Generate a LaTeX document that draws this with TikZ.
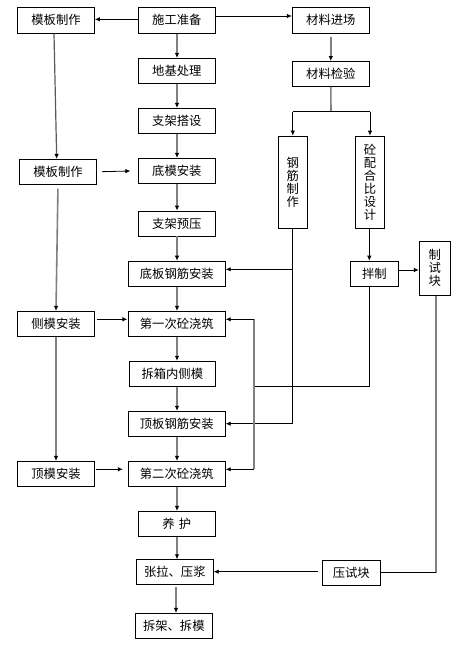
\documentclass[tikz,border=0pt]{standalone}
\usepackage{fontspec}
\setmainfont{Noto Sans CJK SC}
\usetikzlibrary{arrows.meta}

\begin{document}
\begin{tikzpicture}[x=1pt,y=-1pt,
    box/.style={draw,rectangle,line width=0.8pt,inner sep=0pt,align=center,
      minimum height=25pt,font=\fontsize{12.3}{13}\selectfont},
    vline/.style={draw=gray,line width=1.6pt,-{Latex[black,length=5pt,width=4.5pt]}},
    hline/.style={draw=black,line width=0.8pt,-{Latex[length=5pt,width=4.5pt]}},
    plain/.style={draw=black,line width=0.8pt}]

      \useasboundingbox (0,0) rectangle (466,648);

      \begin{scope}[every node/.style={box}]
        \node[minimum width=77pt,minimum height=26pt] (mbzz)  at (56,20.3)    {模板制作};
        \node[minimum width=77pt,minimum height=26pt] (sgzb)  at (176.8,20.3) {施工准备};
        \node[minimum width=77pt,minimum height=26pt] (cljc)  at (330.8,20.3) {材料进场};
        \node[minimum width=77pt] (djcl)  at (176.8,70.8)  {地基处理};
        \node[minimum width=77pt] (cljy)  at (330.8,74)    {材料检验};
        \node[minimum width=77pt] (zjds)  at (176.8,120.8) {支架搭设};
        \node[minimum width=29pt,minimum height=92pt] (gjzz) at (292.8,182) {钢\\筋\\制\\作};
        \node[minimum width=29pt,minimum height=92pt] (phb)  at (370,182)   {砼\\配\\合\\比\\设\\计};
        \node[minimum width=77pt] (mbzz2) at (58,171.8)    {模板制作};
        \node[minimum width=77pt] (dmaz)  at (176.8,170.8) {底模安装};
        \node[minimum width=77pt] (zjyy)  at (176.8,223.5) {支架预压};
        \node[minimum width=97pt] (dbgj)  at (176.8,273.6) {底板钢筋安装};
        \node[minimum width=48pt] (bz)    at (374.3,273.6) {拌制};
        \node[minimum width=31pt,minimum height=54pt] (zsk) at (434.7,268.3) {制\\试\\块};
        \node[minimum width=77pt] (cmaz)  at (56,323.8)    {侧模安装};
        \node[minimum width=97pt] (dyc)   at (176.8,323.8) {第一次砼浇筑};
        \node[minimum width=86pt] (cxm)   at (172.3,373.7) {拆箱内侧模};
        \node[minimum width=97pt] (dbgj2) at (176.8,423.7) {顶板钢筋安装};
        \node[minimum width=77pt] (dmaz2) at (56,473.8)    {顶模安装};
        \node[minimum width=97pt] (dec)   at (176.8,473.8) {第二次砼浇筑};
        \node[minimum width=77pt] (yh)    at (176.8,523.8) {养\,\,护};
        \node[minimum width=77pt] (zlyj)  at (174.8,572.2) {张拉、压浆};
        \node[minimum width=58pt] (ysk)   at (351.3,572.8) {压试块};
        \node[minimum width=77pt] (cjcm)  at (173.8,625.8) {拆架、拆模};
      \end{scope}

      \coordinate (fen) at (331,111.7);
      \coordinate (hui) at (254,386);

      % main column
      \draw[vline] (sgzb.south -| 177,0) -- (djcl.north -| 177,0);
      \draw[vline] (djcl.south -| 177,0) -- (zjds.north -| 177,0);
      \draw[vline] (zjds.south -| 177,0) -- (dmaz.north -| 177,0);
      \draw[vline] (dmaz.south -| 177,0) -- (zjyy.north -| 177,0);
      \draw[vline] (zjyy.south -| 177,0) -- (dbgj.north -| 177,0);
      \draw[vline] (dbgj.south -| 177,0) -- (dyc.north -| 177,0);
      \draw[vline] (dyc.south -| 177,0) -- (cxm.north -| 177,0);
      \draw[vline] (cxm.south -| 177,0) -- (dbgj2.north -| 177,0);
      \draw[vline] (dbgj2.south -| 177,0) -- (dec.north -| 177,0);
      \draw[vline] (dec.south -| 177,0) -- (yh.north -| 177,0);
      \draw[vline] (yh.south -| 177,0) -- (zlyj.north -| 177,0);
      \draw[vline,shorten <=2pt] (zlyj.south -| 176,0) -- (cjcm.north -| 176,0);

      % left column
      \draw[hline] (sgzb.west |- 0,19.3) -- (mbzz.east |- 0,19.3);
      \draw[vline,draw=gray!70!black,line width=1.2pt] (mbzz.south -| 54,0) -- (mbzz2.north -| 56.7,0);
      \draw[hline,shorten <=5pt,shorten >=7.5pt] (mbzz2.east) -- (dmaz.west);
      \draw[vline,shorten <=4pt] (mbzz2.south) -- (cmaz.north);
      \draw[hline,shorten <=2pt,shorten >=0.5pt] (cmaz.east |- 0,319.3) -- (dyc.west |- 0,319.3);
      \draw[vline] (cmaz.south) -- (dmaz2.north);
      \draw[hline,shorten <=1pt,shorten >=5pt] (dmaz2.east |- 0,469.3) -- (dec.west |- 0,469.3);

      % right side
      \draw[hline] (sgzb.east |- 0,16) -- (cljc.west |- 0,16);
      \draw[vline,shorten <=3pt] (cljc.south) -- (cljy.north);
      \draw[vline,-] (cljy.south) -- (fen);
      \draw[plain] (gjzz.north |- fen) -- (phb.north |- fen);
      \draw[hline] (gjzz.north |- fen) -- (gjzz.north);
      \draw[hline] (phb.north |- fen) -- (phb.north);

      \draw[plain] (gjzz.south) -- (gjzz.south |- dbgj2.east);
      \draw[hline] (gjzz.south |- 0,269.3) -- (dbgj.east |- 0,269.3);
      \draw[hline] (gjzz.south |- dbgj2.east) -- (dbgj2.east);

      \draw[hline] (phb.south -| 369.3,0) -- (bz.north -| 369.3,0);
      \draw[hline] (bz.east |- 0,270) -- (zsk.west |- 0,270);
      \draw[plain] (bz.south -| 369.3,0) |- (hui);
      \draw[vline,-] (hui |- 0,319.3) -- (hui |- 0,469.3);
      \draw[hline] (hui |- 0,319.3) -- (dyc.east |- 0,319.3);
      \draw[hline] (hui |- 0,469.3) -- (dec.east |- 0,469.3);

      \draw[vline,-] (zsk.south -| 436,0) -- (ysk.east -| 436,0);
      \draw[plain] (ysk.east -| 436,0) -- (ysk.east);
      \draw[hline,shorten <=4pt] (ysk.west |- 0,571.7) -- (zlyj.east |- 0,571.7);

\end{tikzpicture}
\end{document}
